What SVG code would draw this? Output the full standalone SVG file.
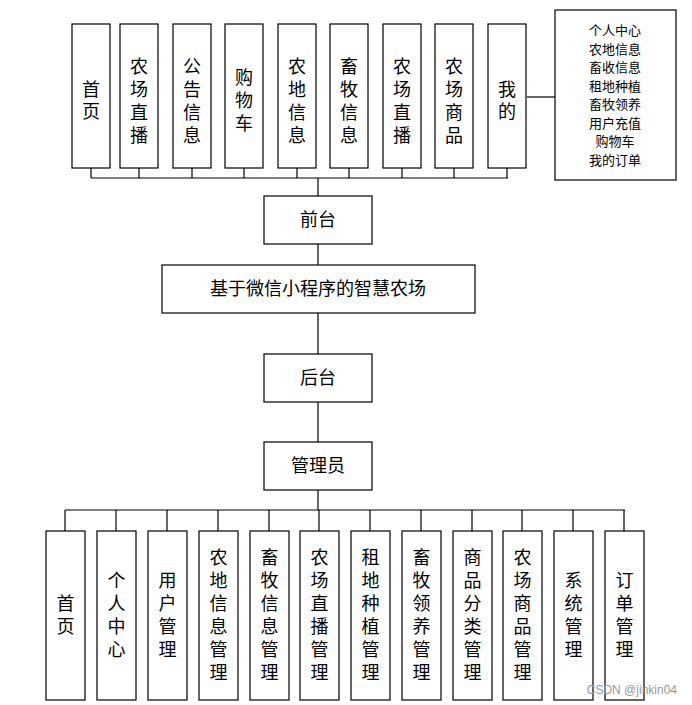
<svg xmlns="http://www.w3.org/2000/svg" width="692" height="705" viewBox="0 0 692 705">
<style>
rect{fill:#fff;stroke:#000;stroke-width:1.2}
text{font-family:"Noto Sans CJK SC",sans-serif;font-size:18px;fill:#000;text-anchor:middle}
.s{font-size:13px}
#c line{stroke:#000;stroke-width:1.2}
</style>
<rect x="0" y="0" width="692" height="705" style="stroke:none"/>
<g id="c">
<line x1="91" y1="178" x2="508" y2="178"/>
<line x1="91" y1="168" x2="91" y2="178"/><line x1="139" y1="168" x2="139" y2="178"/><line x1="192" y1="168" x2="192" y2="178"/><line x1="244" y1="168" x2="244" y2="178"/><line x1="297" y1="168" x2="297" y2="178"/><line x1="349" y1="168" x2="349" y2="178"/><line x1="402" y1="168" x2="402" y2="178"/><line x1="454" y1="168" x2="454" y2="178"/><line x1="507" y1="168" x2="507" y2="178"/>
<line x1="527" y1="97" x2="555" y2="97"/>
<line x1="318" y1="178" x2="318" y2="196"/>
<line x1="318" y1="244" x2="318" y2="265"/>
<line x1="318" y1="313" x2="318" y2="354"/>
<line x1="318" y1="402" x2="318" y2="442"/>
<line x1="318" y1="490" x2="318" y2="510"/>
<line x1="65" y1="510" x2="625" y2="510"/>
<line x1="65" y1="510" x2="65" y2="531"/><line x1="116" y1="510" x2="116" y2="531"/><line x1="167" y1="510" x2="167" y2="531"/><line x1="218" y1="510" x2="218" y2="531"/><line x1="269" y1="510" x2="269" y2="531"/><line x1="319" y1="510" x2="319" y2="531"/><line x1="370" y1="510" x2="370" y2="531"/><line x1="421" y1="510" x2="421" y2="531"/><line x1="472" y1="510" x2="472" y2="531"/><line x1="522" y1="510" x2="522" y2="531"/><line x1="573" y1="510" x2="573" y2="531"/><line x1="624" y1="510" x2="624" y2="531"/>
</g>
<g id="t1"><rect x="72" y="24" width="38" height="144"/><text x="91" y="96"><tspan x="91" y="96">首</tspan><tspan x="91" y="118">页</tspan></text></g>
<g id="t2"><rect x="120" y="24" width="38" height="144"/><text><tspan x="139" y="73">农</tspan><tspan x="139" y="96">场</tspan><tspan x="139" y="119">直</tspan><tspan x="139" y="142">播</tspan></text></g>
<g id="t3"><rect x="173" y="24" width="38" height="144"/><text><tspan x="192" y="73">公</tspan><tspan x="192" y="96">告</tspan><tspan x="192" y="119">信</tspan><tspan x="192" y="142">息</tspan></text></g>
<g id="t4"><rect x="225" y="24" width="38" height="144"/><text><tspan x="244" y="84">购</tspan><tspan x="244" y="107">物</tspan><tspan x="244" y="130">车</tspan></text></g>
<g id="t5"><rect x="278" y="24" width="38" height="144"/><text><tspan x="297" y="73">农</tspan><tspan x="297" y="96">地</tspan><tspan x="297" y="119">信</tspan><tspan x="297" y="142">息</tspan></text></g>
<g id="t6"><rect x="330" y="24" width="38" height="144"/><text><tspan x="349" y="73">畜</tspan><tspan x="349" y="96">牧</tspan><tspan x="349" y="119">信</tspan><tspan x="349" y="142">息</tspan></text></g>
<g id="t7"><rect x="383" y="24" width="38" height="144"/><text><tspan x="402" y="73">农</tspan><tspan x="402" y="96">场</tspan><tspan x="402" y="119">直</tspan><tspan x="402" y="142">播</tspan></text></g>
<g id="t8"><rect x="435" y="24" width="38" height="144"/><text><tspan x="454" y="73">农</tspan><tspan x="454" y="96">场</tspan><tspan x="454" y="119">商</tspan><tspan x="454" y="142">品</tspan></text></g>
<g id="t9"><rect x="488" y="24" width="38" height="144"/><text><tspan x="507" y="96">我</tspan><tspan x="507" y="118">的</tspan></text></g>
<g id="mine"><rect x="555" y="10" width="121" height="170"/><text class="s"><tspan x="615" y="35">个人中心</tspan><tspan x="615" y="53.5">农地信息</tspan><tspan x="615" y="72">畜收信息</tspan><tspan x="615" y="90.5">租地种植</tspan><tspan x="615" y="109">畜牧领养</tspan><tspan x="615" y="127.5">用户充值</tspan><tspan x="615" y="146">购物车</tspan><tspan x="615" y="164.5">我的订单</tspan></text></g>
<g id="front"><rect x="264" y="196" width="108" height="48"/><text x="318" y="226">前台</text></g>
<g id="title"><rect x="162" y="265" width="313" height="48"/><text x="318" y="295">基于微信小程序的智慧农场</text></g>
<g id="back"><rect x="264" y="354" width="108" height="48"/><text x="318" y="384">后台</text></g>
<g id="admin"><rect x="264" y="442" width="108" height="48"/><text x="318" y="472">管理员</text></g>
<g id="b1"><rect x="46" y="531" width="39" height="169"/><text><tspan x="65.5" y="610">首</tspan><tspan x="65.5" y="633">页</tspan></text></g>
<g id="b2"><rect x="97" y="531" width="39" height="169"/><text><tspan x="116.5" y="587">个</tspan><tspan x="116.5" y="610">人</tspan><tspan x="116.5" y="633">中</tspan><tspan x="116.5" y="656">心</tspan></text></g>
<g id="b3"><rect x="148" y="531" width="39" height="169"/><text><tspan x="167.5" y="587">用</tspan><tspan x="167.5" y="610">户</tspan><tspan x="167.5" y="633">管</tspan><tspan x="167.5" y="656">理</tspan></text></g>
<g id="b4"><rect x="199" y="531" width="39" height="169"/><text><tspan x="218.5" y="564">农</tspan><tspan x="218.5" y="587">地</tspan><tspan x="218.5" y="610">信</tspan><tspan x="218.5" y="633">息</tspan><tspan x="218.5" y="656">管</tspan><tspan x="218.5" y="679">理</tspan></text></g>
<g id="b5"><rect x="250" y="531" width="39" height="169"/><text><tspan x="269.5" y="564">畜</tspan><tspan x="269.5" y="587">牧</tspan><tspan x="269.5" y="610">信</tspan><tspan x="269.5" y="633">息</tspan><tspan x="269.5" y="656">管</tspan><tspan x="269.5" y="679">理</tspan></text></g>
<g id="b6"><rect x="300" y="531" width="39" height="169"/><text><tspan x="319.5" y="564">农</tspan><tspan x="319.5" y="587">场</tspan><tspan x="319.5" y="610">直</tspan><tspan x="319.5" y="633">播</tspan><tspan x="319.5" y="656">管</tspan><tspan x="319.5" y="679">理</tspan></text></g>
<g id="b7"><rect x="351" y="531" width="39" height="169"/><text><tspan x="370.5" y="564">租</tspan><tspan x="370.5" y="587">地</tspan><tspan x="370.5" y="610">种</tspan><tspan x="370.5" y="633">植</tspan><tspan x="370.5" y="656">管</tspan><tspan x="370.5" y="679">理</tspan></text></g>
<g id="b8"><rect x="402" y="531" width="39" height="169"/><text><tspan x="421.5" y="564">畜</tspan><tspan x="421.5" y="587">牧</tspan><tspan x="421.5" y="610">领</tspan><tspan x="421.5" y="633">养</tspan><tspan x="421.5" y="656">管</tspan><tspan x="421.5" y="679">理</tspan></text></g>
<g id="b9"><rect x="453" y="531" width="39" height="169"/><text><tspan x="472.5" y="564">商</tspan><tspan x="472.5" y="587">品</tspan><tspan x="472.5" y="610">分</tspan><tspan x="472.5" y="633">类</tspan><tspan x="472.5" y="656">管</tspan><tspan x="472.5" y="679">理</tspan></text></g>
<g id="b10"><rect x="503" y="531" width="39" height="169"/><text><tspan x="522.5" y="564">农</tspan><tspan x="522.5" y="587">场</tspan><tspan x="522.5" y="610">商</tspan><tspan x="522.5" y="633">品</tspan><tspan x="522.5" y="656">管</tspan><tspan x="522.5" y="679">理</tspan></text></g>
<g id="b11"><rect x="554" y="531" width="39" height="169"/><text><tspan x="573.5" y="587">系</tspan><tspan x="573.5" y="610">统</tspan><tspan x="573.5" y="633">管</tspan><tspan x="573.5" y="656">理</tspan></text></g>
<g id="b12"><rect x="605" y="531" width="39" height="169"/><text><tspan x="624.5" y="587">订</tspan><tspan x="624.5" y="610">单</tspan><tspan x="624.5" y="633">管</tspan><tspan x="624.5" y="656">理</tspan></text></g>
<text x="677" y="694" style="font-family:'Liberation Sans',sans-serif;font-size:12px;fill:#999;text-anchor:end">CSDN @jinkin04</text>
</svg>
